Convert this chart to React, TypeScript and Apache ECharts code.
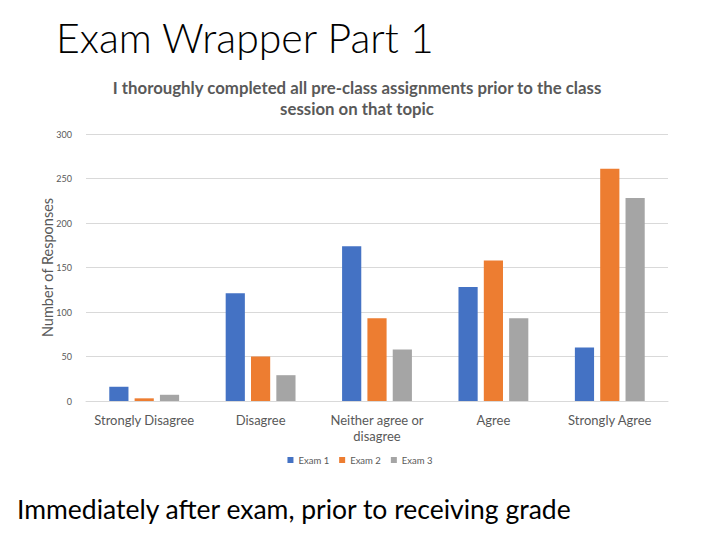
import React, { useEffect, useRef } from "react";
import * as echarts from "echarts";

const categories = ["Strongly Disagree", "Disagree", "Neither agree or\ndisagree", "Agree", "Strongly Agree"];
const seriesNames = ["Exam 1", "Exam 2", "Exam 3"];
const exam1 = [16, 121, 174, 128, 60];
const exam2 = [3, 50, 93, 158, 261];
const exam3 = [7, 29, 58, 93, 228];
const colors = ["#4472C4", "#ED7D31", "#A5A5A5"];
const yMin = 0;
const yMax = 300;
const yInterval = 50;

export default function App() {
  const ref = useRef<HTMLDivElement>(null);
  useEffect(() => {
    if (!ref.current) return;
    const chart = echarts.init(ref.current, null, { renderer: "svg" });
    const data = [exam1, exam2, exam3];
    chart.setOption({
      animation: false,
      backgroundColor: "#ffffff",
      title: [
        {
          text: "Exam Wrapper Part 1",
          left: 51,
          top: 12,
          textStyle: { fontFamily: "Lato", fontWeight: 300, fontSize: 41, color: "#000000" },
        },
        {
          text: "I thoroughly completed all pre-class assignments prior to the class\nsession on that topic",
          left: 352,
          top: 72,
          textAlign: "center",
          textStyle: { fontFamily: "Lato", fontWeight: "bold", fontSize: 16.8, lineHeight: 21, color: "#595959", align: "center" },
        },
        {
          text: "Immediately after exam, prior to receiving grade",
          left: 12,
          top: 490,
          textStyle: { fontFamily: "Lato", fontWeight: "normal", fontSize: 26.5, color: "#000000" },
        },
      ],
      legend: {
        data: seriesNames,
        bottom: 70,
        left: "center",
        itemWidth: 6,
        itemHeight: 6,
        itemGap: 10,
        icon: "rect",
        textStyle: { fontFamily: "Lato", fontSize: 9.5, color: "#595959" },
      },
      grid: { left: 86, right: 52, top: 134, bottom: 139 },
      xAxis: {
        type: "category",
        data: categories,
        axisLine: { lineStyle: { color: "#D9D9D9" } },
        axisTick: { show: false },
        axisLabel: { fontFamily: "Lato", fontSize: 13, color: "#595959", margin: 11, lineHeight: 16, interval: 0 },
      },
      yAxis: {
        type: "value",
        min: yMin,
        max: yMax,
        interval: yInterval,
        name: "Number of Responses",
        nameLocation: "middle",
        nameGap: 31,
        nameMoveOverlap: false,
        nameTextStyle: { fontFamily: "Lato", fontSize: 14.5, color: "#595959" },
        axisLine: { show: false },
        axisTick: { show: false },
        axisLabel: { fontFamily: "Lato", fontSize: 9, color: "#595959", margin: 14 },
        splitLine: { lineStyle: { color: "#D9D9D9" } },
      },
      series: seriesNames.map((n, i) => ({
        name: n,
        type: "bar",
        data: data[i],
        itemStyle: { color: colors[i] },
        barGap: "32%",
        barCategoryGap: "40%",
      })),
    });
    return () => chart.dispose();
  }, []);
  return <div ref={ref} style={{ width: 720, height: 540, position: "absolute", left: 0, top: 0 }} />;
}
